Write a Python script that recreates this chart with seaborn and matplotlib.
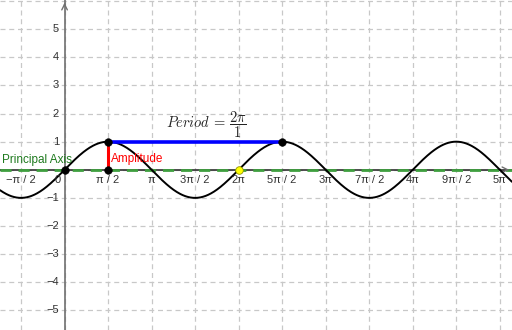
import numpy as np
import pandas as pd
import matplotlib
matplotlib.use("Agg")
import matplotlib.pyplot as plt
import seaborn as sns

# ---- data ----
amplitude = 1.0
freq_b = 1.0
x_range = [-2.33, 16.15]
y_range = [-5.7, 6.04]
x_tick_pos = [-0.5, 0.5, 1, 1.5, 2, 2.5, 3, 3.5, 4, 4.5, 5]  # multiples of pi
x_tick_labels = ["\u2212\u03c0 / 2", "\u03c0 / 2", "\u03c0", "3\u03c0 / 2", "2\u03c0",
                 "5\u03c0 / 2", "3\u03c0", "7\u03c0 / 2", "4\u03c0", "9\u03c0 / 2", "5\u03c0"]
y_tick_pos = [5, 4, 3, 2, 1, -1, -2, -3, -4, -5]
y_tick_labels = ["5", "4", "3", "2", "1", "\u22121", "\u22122", "\u22123", "\u22124", "\u22125"]
black_pts_x = [0, np.pi / 2, np.pi / 2, 5 * np.pi / 2]
black_pts_y = [0, 1, 0, 1]
yellow_pt = (2 * np.pi, 0)
period_line_x = [np.pi / 2, 5 * np.pi / 2]
period_line_y = [1, 1]
amp_line_x = [np.pi / 2, np.pi / 2]
amp_line_y = [0, 1]

sns.set_style("white")
plt.rcParams["font.family"] = ["Liberation Sans", "DejaVu Sans"]
plt.rcParams["mathtext.fontset"] = "cm"

fig = plt.figure(figsize=(5.12, 3.30), dpi=100)
ax = fig.add_axes([0, 0, 1, 1])
ax.set_xlim(*x_range)
ax.set_ylim(*y_range)
ax.axis("off")

grid_kw = dict(color="#c8c8c8", lw=0.9, ls=(0, (4, 3)), zorder=0)
for k in range(-1, 11):
    ax.axvline(k * np.pi / 2, **grid_kw)
for k in range(-5, 7):
    ax.axhline(k, **grid_kw)

# axes
ax.axvline(0, color="#707070", lw=1.2, zorder=1)
ax.axhline(0, color="#303030", lw=1.2, zorder=1)
ax.annotate("", xy=(0, y_range[1]), xytext=(0, y_range[1] - 0.3),
            arrowprops=dict(arrowstyle="->", color="#707070", lw=1))
ax.annotate("", xy=(x_range[1], 0), xytext=(x_range[1] - 0.3, 0),
            arrowprops=dict(arrowstyle="->", color="#707070", lw=1))

# principal axis (green dashed)
ax.axhline(0, color="#3f9f3f", lw=2, ls=(0, (4, 2.5)), zorder=2)

# sine curve
xs = np.linspace(x_range[0], x_range[1], 800)
df = pd.DataFrame({"x": xs, "y": amplitude * np.sin(freq_b * xs)})
sns.lineplot(data=df, x="x", y="y", color="black", lw=1.4, ax=ax, zorder=3)

# period and amplitude lines
sns.lineplot(x=period_line_x, y=period_line_y, color="#0000ff", lw=2.6, ax=ax, zorder=4,
             estimator=None, sort=False)
sns.lineplot(x=amp_line_x, y=amp_line_y, color="#ff0000", lw=2.2, ax=ax, zorder=4,
             estimator=None, sort=False)

# points
sns.scatterplot(x=black_pts_x, y=black_pts_y, color="black", s=30, ax=ax, zorder=5,
                edgecolor="black")
sns.scatterplot(x=[yellow_pt[0]], y=[yellow_pt[1]], color="#ffff00", s=30, ax=ax,
                zorder=5, edgecolor="#909000", linewidth=0.6)

# tick labels
for p, lab in zip(x_tick_pos, x_tick_labels):
    ax.text(p * np.pi, -0.2, lab, ha="center", va="top", fontsize=8, color="#333333")
ax.text(-0.15, -0.2, "0", ha="right", va="top", fontsize=8, color="#333333")
for p, lab in zip(y_tick_pos, y_tick_labels):
    ax.text(-0.2, p, lab, ha="right", va="center", fontsize=8, color="#333333")

# annotations
ax.text(x_range[0] + 0.07, 0.35, "Principal Axis", color="#1e7a1e", fontsize=8.5,
        ha="left", va="center")
ax.text(np.pi / 2 + 0.1, 0.38, "Amplitude", color="#ff0000", fontsize=8.5,
        ha="left", va="center")
ax.text(3.66, 1.6, r"$Period\,=\,\dfrac{2\pi}{1}$", fontsize=10.5, ha="left",
        va="center", color="#222222")

if ax.get_legend():
    ax.get_legend().remove()
fig.savefig("out.png", dpi=100)
